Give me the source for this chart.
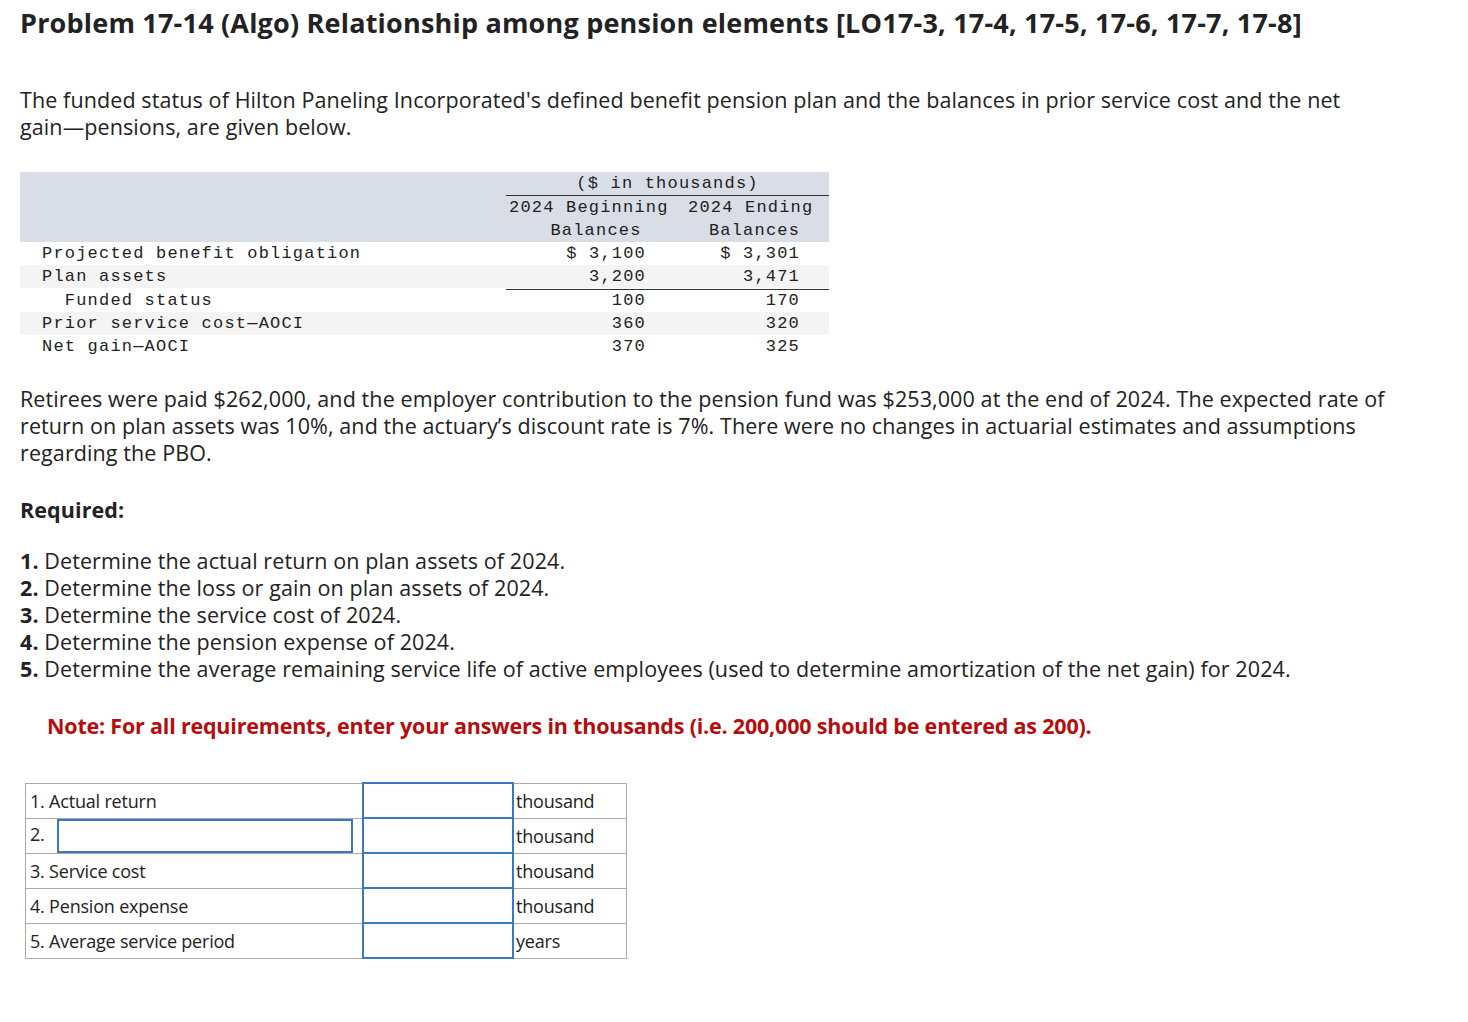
<!DOCTYPE html>
<html><head><meta charset="utf-8">
<script src="https://cdn.jsdelivr.net/npm/chart.js"></script>
<style>
body{margin:0;background:#fff;font-family:"Open Sans",Lato,sans-serif;color:#222;}
.abs{position:absolute;}
h1{position:absolute;left:20px;top:4px;margin:0;font-size:27px;font-weight:700;font-family:"Open Sans",sans-serif;letter-spacing:0.2px;}
.txt{font-size:21.5px;line-height:27px;left:20px;width:1400px;letter-spacing:0.1px}
#tbl{position:absolute;left:20px;top:172px;width:809px;font-family:"Liberation Mono","DejaVu Sans Mono",monospace;font-size:17px;letter-spacing:1.2px;color:#222}
.row{position:absolute;left:0;width:809px;height:23px}
.c{position:absolute;white-space:pre}
#ans{position:absolute;left:25px;top:782px;border-collapse:collapse;font-size:18px;letter-spacing:-0.2px}
#ans td{border:1px solid #aaa;height:33px;padding:0 4px;}
.inp{border:2px solid #3a78c0 !important}
</style></head><body>
<h1>Problem 17-14 (Algo) Relationship among pension elements [LO17-3, 17-4, 17-5, 17-6, 17-7, 17-8]</h1>
<div class="abs txt" style="top:86px">The funded status of Hilton Paneling Incorporated's defined benefit pension plan and the balances in prior service cost and the net <span style="white-space:nowrap">gain—pensions,</span> are given below.</div>
<div id="tbl"></div>
<div class="abs txt" style="top:385px">Retirees were paid $262,000, and the employer contribution to the pension fund was $253,000 at the end of 2024. The expected rate of return on plan assets was 10%, and the actuary’s discount rate is 7%. There were no changes in actuarial estimates and assumptions regarding the PBO.</div>
<div class="abs txt" style="top:496px;font-weight:700">Required:</div>
<div class="abs txt" style="top:547px" id="req"></div>
<div class="abs txt" style="top:712px;left:47px;color:#b50d0d;font-weight:700;letter-spacing:-0.2px">Note: For all requirements, enter your answers in thousands (i.e. 200,000 should be entered as 200).</div>
<table id="ans"></table>
<script>
const rowLabels=["Projected benefit obligation","Plan assets","  Funded status","Prior service cost—AOCI","Net gain—AOCI"];
const beginning=["$ 3,100","3,200","100","360","370"];
const ending=["$ 3,301","3,471","170","320","325"];
const requirements=["Determine the actual return on plan assets of 2024.","Determine the loss or gain on plan assets of 2024.","Determine the service cost of 2024.","Determine the pension expense of 2024.","Determine the average remaining service life of active employees (used to determine amortization of the net gain) for 2024."];
const answerLabels=["1. Actual return","2.","3. Service cost","4. Pension expense","5. Average service period"];
const answerUnits=["thousand","thousand","thousand","thousand","years"];

const t=document.getElementById('tbl');
let h='<div class="abs" style="left:0;top:0;width:809px;height:70px;background:#d9dde6"></div>';
h+='<div class="c" style="left:486px;top:2px;width:323px;text-align:center">($ in thousands)</div>';
h+='<div class="abs" style="left:486px;top:23px;width:323px;border-top:1px solid #333"></div>';
h+='<div class="c" style="left:489px;top:26px">2024 Beginning</div><div class="c" style="left:668px;top:26px">2024 Ending</div>';
h+='<div class="c" style="left:486px;top:49px;width:180px;text-align:center">Balances</div><div class="c" style="left:660px;top:49px;width:149px;text-align:center">Balances</div>';
rowLabels.forEach((l,i)=>{
 const top=70+i*23.3;
 h+=`<div class="row" style="top:${top}px;background:${i%2?'#f4f4f4':'#fff'}">
 <div class="c" style="left:22px;top:2px">${l}</div>
 <div class="c" style="right:183px;top:2px">${beginning[i]}</div>
 <div class="c" style="right:29px;top:2px">${ending[i]}</div></div>`;
 if(i==2) h+=`<div class="abs" style="left:486px;top:${top}px;width:323px;border-top:1px solid #333"></div>`;
});
t.innerHTML=h;
document.getElementById('req').innerHTML=requirements.map((r,i)=>`<div><b>${i+1}.</b> ${r}</div>`).join('');
document.getElementById('ans').innerHTML=answerLabels.map((l,i)=>`<tr><td style="width:328px">${i==1?'2. <span style="display:inline-block;width:292px;height:30px;border:2px solid #3a78c0;vertical-align:middle;margin-left:8px"></span>':l}</td><td class="inp" style="width:140px"></td><td style="width:106px;padding-left:2px">${answerUnits[i]}</td></tr>`).join('');
</script>
</body></html>
